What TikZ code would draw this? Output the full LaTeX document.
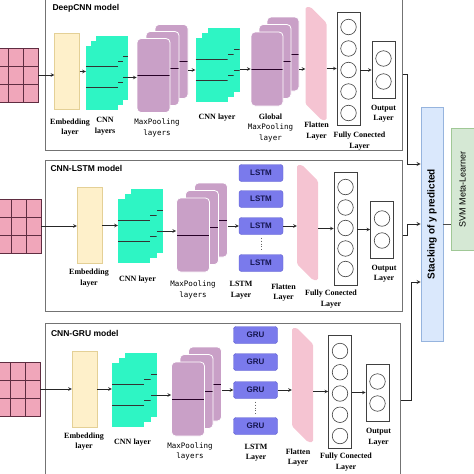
\documentclass[tikz,border=0pt]{standalone}
\usepackage{fontspec}
\setmainfont{Liberation Serif}
\setsansfont{Liberation Sans}
\setmonofont{DejaVu Sans Mono}
\definecolor{gridfill}{RGB}{240,166,186}
\definecolor{griddraw}{RGB}{95,45,65}
\definecolor{embfill}{RGB}{254,240,202}
\definecolor{embdraw}{RGB}{228,208,150}
\definecolor{cnnfill}{RGB}{46,245,196}
\definecolor{poolfill}{RGB}{201,160,199}
\definecolor{flatfill}{RGB}{245,196,210}
\definecolor{rnnfill}{RGB}{122,122,236}
\definecolor{rnndraw}{RGB}{96,96,205}
\definecolor{rnntext}{RGB}{22,22,80}
\definecolor{stackfill}{RGB}{218,232,252}
\definecolor{stackdraw}{RGB}{150,180,222}
\definecolor{svmfill}{RGB}{213,232,212}
\definecolor{svmdraw}{RGB}{160,200,150}

\begin{document}
\begin{tikzpicture}[ x=1pt, y=-1pt, >=stealth,
    frame/.style={ draw=black!55, line width=1pt, inner sep=0 },
    title/.style={ anchor=west, font=\sffamily\bfseries\fontsize{8.5}{10}\selectfont },
    cell/.style={ draw=griddraw, fill=gridfill, line width=.6pt,
      minimum width=15pt, minimum height=18pt, inner sep=0 },
    emb/.style={ draw=embdraw, fill=embfill, minimum width=25pt,
      minimum height=76pt, inner sep=0 },
    seam/.style={ draw=black!80, line width=.9pt },
    cnn/.style={ fill=cnnfill, minimum width=32pt, minimum height=64pt,
      inner sep=0, path picture={
        \draw[seam] ([yshift=-21pt]path picture bounding box.north west)
          -- ([yshift=-21pt]path picture bounding box.north east)
          ([yshift=-42pt]path picture bounding box.north west)
          -- ([yshift=-42pt]path picture bounding box.north east); } },
    pool/.style={ draw=white, fill=poolfill, rounded corners=4pt,
      line width=.8pt, minimum width=33pt, minimum height=74pt, inner sep=0,
      path picture={ \draw[seam, draw=black!70!violet]
          (path picture bounding box.west) -- (path picture bounding box.east); } },
    flat/.style={ minimum width=21pt, inner sep=0, path picture={
        \fill[flatfill, rounded corners=1.5pt] (path picture bounding box.north west)
          -- ([xshift=5pt]path picture bounding box.north west)
          -- ([yshift=-16pt]path picture bounding box.north east)
          -- (path picture bounding box.south east)
          -- ([xshift=-5pt]path picture bounding box.south east)
          -- ([yshift=16pt]path picture bounding box.south west) -- cycle; } },
    fc/.style={ draw=black!75, line width=.7pt, minimum width=23pt,
      minimum height=113pt, inner sep=0 },
    outbox/.style={ draw=black!75, line width=.7pt, minimum width=23pt,
      minimum height=57pt, inner sep=0 },
    neuron/.style={ circle, draw=black!75, line width=.6pt,
      minimum size=15.5pt, inner sep=0 },
    rnn/.style={ draw=rnndraw, fill=rnnfill, rounded corners=2.5pt,
      minimum width=44pt, minimum height=17pt, inner sep=0, text=rnntext,
      font=\sffamily\bfseries\fontsize{8}{9}\selectfont },
    dotline/.style={ dotted, line width=.9pt, draw=black!60,
      shorten <=3pt, shorten >=3pt },
    lbl/.style={ align=center, font=\bfseries\fontsize{8}{10.5}\selectfont },
    mono/.style={ align=center, font=\ttfamily\fontsize{7.5}{10.5}\selectfont },
    link/.style={ ->, draw=black!85, line width=.6pt },
    stackbox/.style={ draw=stackdraw, fill=stackfill, line width=.7pt,
      minimum width=22pt, minimum height=234pt, inner sep=0 },
    svmbox/.style={ draw=svmdraw, fill=svmfill, line width=.7pt,
      minimum width=23pt, minimum height=122pt, inner sep=0 } ]
  \useasboundingbox (0,0) rectangle (474,474);

  \node[frame, minimum width=357pt, minimum height=152pt] (boxA) at (223.5,74) {};
  \node[frame, minimum width=357pt, minimum height=151pt] (boxB) at (223.5,235.5) {};
  \node[frame, minimum width=355pt, minimum height=155pt] (boxC) at (222.5,400.5) {};
  \node[title] (titleA) at (49,8.5) {DeepCNN model};
  \node[title] (titleB) at (47,168) {CNN-LSTM model};
  \node[title] (titleC) at (47.5,333) {CNN-GRU model};

  \foreach \r in {0,1,2} \foreach \c in {0,1,2} {
    \node[cell] (gA\r\c) at (0.5+15*\c,57+18*\r) {};
    \node[cell] (gB\r\c) at (3.5+15*\c,208+18*\r) {};
    \node[cell] (gC\r\c) at (2.5+15*\c,371+18*\r) {};
  }

  \node[emb] (embA) at (67,71.5) {};
  \foreach \i in {2,1,0} \node[cnn] (cnnA\i) at (102+5*\i,77.5-5*\i) {};
  \foreach \i in {2,1,0} \node[pool] (poolA\i) at (153.5+9*\i,75.5-7*\i) {};
  \foreach \i in {2,1,0} \node[cnn] (deepcnn\i) at (211.5+6*\i,70-5*\i) {};
  \foreach \i in {2,1,0} \node[pool, minimum width=32pt] (gpool\i) at (267+8*\i,69-7.5*\i) {};
  \node[flat, minimum height=113pt] (flatA) at (316,63.5) {};
  \node[fc] (fcA) at (348.5,68.5) {};
  \foreach \k in {0,...,4} \node[neuron] (nA\k) at (348.5,27+21.5*\k) {};
  \node[outbox] (outA) at (383.5,70) {};
  \foreach \k in {0,1} \node[neuron] (oA\k) at (383.5,58.5+23*\k) {};

  \node[emb] (embB) at (89.5,225.5) {};
  \foreach \i in {2,1,0} \node[cnn] (cnnB\i) at (134+6.5*\i,231-5*\i) {};
  \foreach \i in {2,1,0} \node[pool] (poolB\i) at (193+9*\i,235-7.5*\i) {};
  \foreach \k/\y in {1/173,2/199,3/226,4/263} \node[rnn] (lstm\k) at (261,\y) {LSTM};
  \draw[dotline] (lstm3.south) -- (lstm4.north);
  \node[flat, minimum height=115pt] (flatB) at (307.5,222.5) {};
  \node[fc] (fcB) at (345.5,228.5) {};
  \foreach \k in {0,...,4} \node[neuron] (nB\k) at (345.5,187+20.5*\k) {};
  \node[outbox] (outB) at (382,229.5) {};
  \foreach \k in {0,1} \node[neuron] (oB\k) at (382,218.5+22*\k) {};

  \node[emb] (embC) at (84.5,389) {};
  \foreach \i in {2,1,0} \node[cnn] (cnnC\i) at (128+6.5*\i,395-5*\i) {};
  \foreach \i in {2,1,0} \node[pool] (poolC\i) at (188+8.5*\i,399-7.5*\i) {};
  \foreach \k/\y in {1/335,2/362,3/390,4/426} \node[rnn] (gru\k) at (255.5,\y) {GRU};
  \draw[dotline] (gru3.south) -- (gru4.north);
  \node[flat, minimum height=114pt] (flatC) at (302.5,385) {};
  \node[fc] (fcC) at (340,391.5) {};
  \foreach \k in {0,...,4} \node[neuron] (nC\k) at (340,351+21.25*\k) {};
  \node[outbox] (outC) at (377.5,392.5) {};
  \foreach \k in {0,1} \node[neuron] (oC\k) at (377.5,381.5+22*\k) {};

  \node[lbl] at (70,127.5) {Embedding\\layer};
  \node[lbl] at (105,126) {CNN\\layers};
  \node[mono] at (157,128) {MaxPooling\\layers};
  \node[lbl] at (217,118) {CNN layer};
  \node[mono] at (270.5,128) {{\rmfamily\bfseries\fontsize{8}{10.5}\selectfont Global}\\MaxPooling\\layer};
  \node[lbl] at (316.5,131) {Flatten\\Layer};
  \node[lbl] at (359.5,141) {Fully Conected\\Layer};
  \node[lbl] at (383.5,113.5) {Output\\Layer};

  \node[lbl] at (89,278) {Embedding\\layer};
  \node[lbl] at (137.5,280) {CNN layer};
  \node[mono] at (193,290) {MaxPooling\\layers};
  \node[lbl] at (241,290) {LSTM\\Layer};
  \node[lbl] at (283.5,292.5) {Flatten\\Layer};
  \node[lbl] at (331,299) {Fully Conected\\Layer};
  \node[lbl] at (384,273.5) {Output\\Layer};

  \node[lbl] at (84,441.5) {Embedding\\layer};
  \node[lbl] at (132.5,443) {CNN layer};
  \node[mono] at (190,451.5) {MaxPooling\\layers};
  \node[lbl] at (256,452.5) {LSTM\\Layer};
  \node[lbl] at (298,457.5) {Flatten\\Layer};
  \node[lbl] at (346,462) {Fully Conected\\Layer};
  \node[lbl] at (378.5,437) {Output\\Layer};

  \node[stackbox] (stack) at (432,224) {};
  \node[rotate=90, font=\sffamily\bfseries\fontsize{10}{12}\selectfont] (stacktext) at (stack) {Stacking of y predicted};
  \node[svmbox] (svm) at (462.5,189) {};
  \node[rotate=90, font=\sffamily\fontsize{9}{11}\selectfont] (svmtext) at (svm) {SVM Meta-Learner};

  \draw[link] (gA12.east) -- (gA12.east -| embA.west);
  \draw[link] (embA.east) -- (embA.east -| cnnA0.west);
  \draw[link] (cnnA2.east |- cnnA0) -- (cnnA0 -| poolA0.west);
  \draw[link] (poolA2.east |- deepcnn0) -- (deepcnn0.west);
  \draw[link] (deepcnn2.east |- gpool0) -- (gpool0.west);
  \draw[link] (gpool2.east |- gpool0) -- (gpool0 -| flatA.west);
  \draw[link] (flatA.east |- fcA) -- (fcA.west);
  \draw[link] (fcA.east |- outA) -- (outA.west);

  \draw[link] (gB12.east) -- (gB12.east -| embB.west);
  \draw[link] (embB.east) -- (embB.east -| cnnB0.west);
  \draw[link] (cnnB2.east |- cnnB0) -- (cnnB0 -| poolB0.west);
  \draw[link] (poolB2.east |- lstm3) -- (lstm3.west);
  \draw[link] (lstm3.east) -- (lstm3 -| flatB.west);
  \draw[link] (flatB.east |- fcB) -- (fcB.west);
  \draw[link] (fcB.east |- outB) -- (outB.west);

  \draw[link] (gC12.east) -- (gC12.east -| embC.west);
  \draw[link] (embC.east) -- (embC.east -| cnnC0.west);
  \draw[link] (cnnC2.east |- cnnC0) -- (cnnC0 -| poolC0.west);
  \draw[link] (poolC2.east |- gru3) -- (gru3.west);
  \draw[link] (gru3.east) -- (gru3 -| flatC.west);
  \draw[link] (flatC.east |- fcC) -- (fcC.west);
  \draw[link] (fcC.east |- outC) -- (outC.west);

  \draw[link, line width=.8pt] (boxA.east) -- ++(5,0) |- ([yshift=60pt]stack.west);
  \draw[link, line width=.8pt] (boxB.east) -- ++(5,0) |- (stack.west);
  \draw[link, line width=.8pt] (boxC.east) -- ++(11,0) |- ([yshift=-58pt]stack.west);
  \draw[draw=black!70, line width=.7pt] (stack.east) -- (stack.east -| svm.west);
\end{tikzpicture}
\end{document}
